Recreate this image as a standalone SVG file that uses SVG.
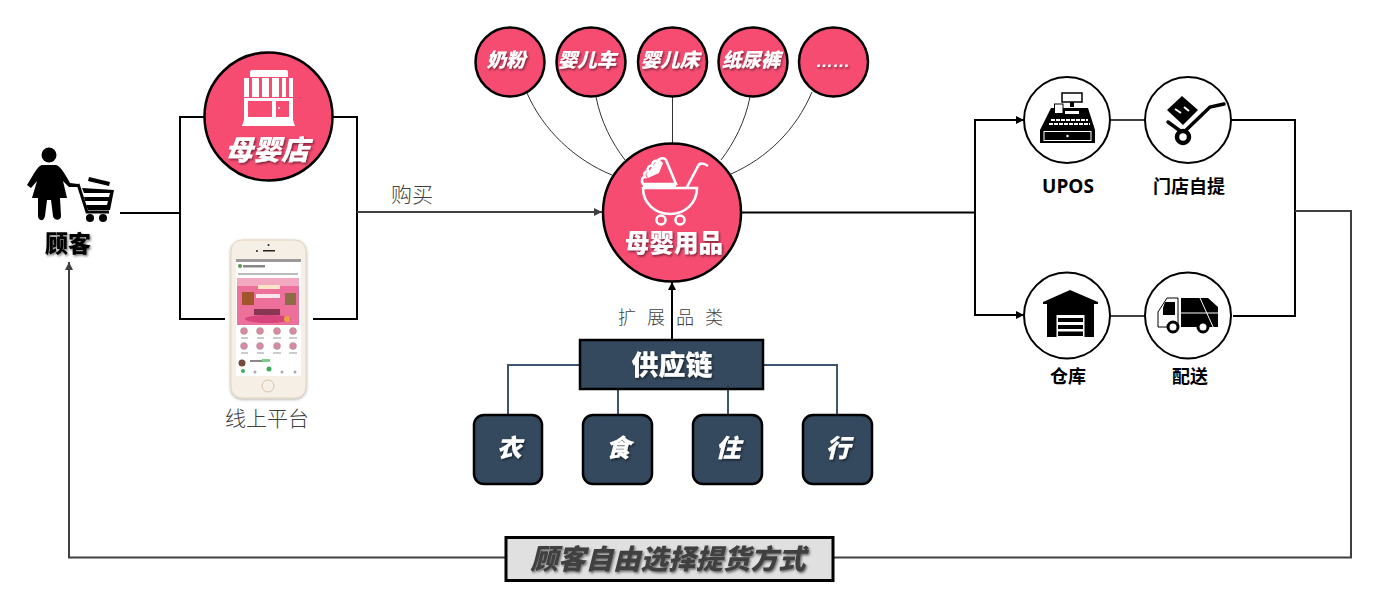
<svg xmlns="http://www.w3.org/2000/svg" width="1388" height="589" viewBox="0 0 1388 589">
<style>
text{font-family:"Noto Sans CJK SC","Noto Sans",sans-serif;text-anchor:middle}
.pink{fill:#f64c72;stroke:#000;stroke-width:2.5}
.white{fill:#fff;stroke:#000;stroke-width:2}
.navy{fill:#34495e;stroke:#000;stroke-width:2.5}
.lab{fill:#fff;font-weight:900;font-style:italic;filter:url(#sh)}
.labn{fill:#fff;font-weight:900;filter:url(#sh)}
.blk{fill:#000;font-weight:700;font-size:18px}
.gray{fill:#404040;font-size:21px;font-weight:300}
.c{fill:none;stroke:#000;stroke-width:2}
.g{fill:none;stroke:#404040;stroke-width:2}
.t{fill:none;stroke:#333;stroke-width:1}
.n{fill:none;stroke:#3d5670;stroke-width:2}
.ic{fill:none;stroke:#fff;stroke-width:2.600}
</style>
<defs>
<filter id="sh" x="-20%" y="-20%" width="150%" height="150%"><feDropShadow dx="1.2" dy="1.5" stdDeviation="1" flood-color="#000" flood-opacity=".55"/></filter>
<filter id="ps" x="-15%" y="-10%" width="130%" height="120%"><feDropShadow dx="0" dy="1" stdDeviation="1.5" flood-color="#000" flood-opacity=".35"/></filter>
<marker id="ab" markerUnits="userSpaceOnUse" markerWidth="10" markerHeight="10" refX="9" refY="5" orient="auto"><path d="M1,1 9,5 1,9z" fill="#000"/></marker>
<marker id="ag" markerUnits="userSpaceOnUse" markerWidth="10" markerHeight="10" refX="9" refY="5" orient="auto"><path d="M1,1 9,5 1,9z" fill="#404040"/></marker>
</defs>
<rect width="1388" height="589" fill="#fff"/>
<g id="connectors">
<path class="c" d="M120,213H180M180,213V117H205M180,213V319H225"/>
<path class="c" d="M332,117H357V319H313"/>
<path class="g" d="M357,212H602" marker-end="url(#ag)"/>
<path class="t" d="M527,93C543,130 575,160 612,175"/>
<path class="t" d="M596,97C601,122 612,143 625,160"/>
<path class="t" d="M672.500,97V143"/>
<path class="t" d="M750,97C745,122 734,143 721,160"/>
<path class="t" d="M812,92C796,130 767,158 731,174"/>
<path class="c" d="M741,212.500H975"/>
<path class="c" d="M975,212V120H1024" marker-end="url(#ab)"/>
<path class="c" d="M975,212V315H1024" marker-end="url(#ab)"/>
<path class="g" d="M1110,120H1145M1111,316H1145"/>
<path class="c" d="M1231,120H1295V316H1233"/>
<path class="g" d="M1295,211H1351V557.500H833M505,557.500H69V262" marker-end="url(#ag)"/>
<path class="c" d="M672,340V282" marker-end="url(#ab)"/>
<path class="n" d="M580,365H508V415M763,365H837V415M618,389V415M728,389V415"/>
</g>
<g id="customer">
<circle cx="49" cy="155" r="7.500"/>
<path d="M42,165H56C60,166 64,172 70,183L78,184 80,187 69,187 63,181 67,198 60,198 61,216C61,221 54,221 53,216L51,200H47L45,216C44,222 38,221 38,216L38,198 32,198 37,181 31,188 27,185C33,176 37,166 42,165Z"/>
<path d="M78,184 87,212H109" fill="none" stroke="#000" stroke-width="3"/>
<path d="M82,188 114,190 110,210 88,210 86,205 107,205 108,201 85,201 84,197 109,197 110,193 84,193Z"/>
<path d="M89,177 110,182 109,186 88,181Z"/>
<circle cx="90" cy="218" r="4"/><circle cx="103" cy="218" r="4"/>
<text class="labn" x="68" y="252" font-size="23" style="fill:#000">顾客</text>
</g>
<g id="store">
<circle class="pink" cx="268.500" cy="116.500" r="64"/>
<path fill="#fff" d="M250,72Q250,70 252,70H286Q288,70 288,72V77H250Z"/>
<path fill="#fff" d="M244,78H249V97H244ZM252,78H259V97H252ZM262,78H269V97H262ZM272,78H279V97H272ZM282,78H286V97H282ZM289,78H293V97H289Z"/>
<path fill="#fff" fill-rule="evenodd" d="M244,98H293V120H244ZM248,101V117H272V101ZM276,101V117H289V101Z"/>
<path fill="#fff" d="M244,120H293L295,126H242Z"/>
<circle cx="279" cy="108" r="1" fill="#fff"/>
<text class="lab" x="267" y="160" font-size="28">母婴店</text>
</g>
<g id="platform">
<rect x="231" y="240" width="75" height="158" rx="11" fill="#f6efe6" stroke="#e3d3bd" filter="url(#ps)"/>
<rect x="236" y="259" width="65" height="117" fill="#fff"/>
<rect x="236" y="259" width="65" height="3" fill="#9a9a9a"/>
<circle cx="240" cy="266" r="2" fill="#5b9a4a"/>
<rect x="243" y="265" width="22" height="2.500" fill="#888"/>
<rect x="238" y="273" width="60" height="2" fill="#bbb"/>
<rect x="237" y="278" width="62" height="47" fill="#ec7099"/>
<rect x="237" y="278" width="62" height="8" fill="#f3a9c0"/>
<rect x="242" y="292" width="12" height="13" fill="#a0562a"/>
<rect x="285" y="293" width="11" height="12" fill="#8d6b45"/>
<rect x="258" y="285" width="22" height="4" fill="#fbe4c8"/>
<rect x="256" y="294" width="24" height="4" fill="#fbe4ea"/>
<rect x="254" y="309" width="26" height="6" fill="#8a3652"/>
<ellipse cx="268" cy="319" rx="23" ry="4" fill="#d8457c"/>
<circle cx="287" cy="319" r="3" fill="#e8a53a"/>
<g fill="#d98aa0" stroke="#999" stroke-width=".5"><circle cx="244" cy="331" r="3.500"/><circle cx="260" cy="331" r="3.500"/><circle cx="277" cy="331" r="3.500"/><circle cx="293" cy="331" r="3.500"/><circle cx="244" cy="346" r="3.500"/><circle cx="260" cy="346" r="3.500"/><circle cx="277" cy="346" r="3.500"/><circle cx="293" cy="346" r="3.500"/></g>
<path stroke="#999" d="M241,338H248M257,338H264M273,338H281M289,338H297M241,353H248M257,353H264M273,353H281M289,353H297"/>
<circle cx="242" cy="363" r="3.500" fill="#7a4a3a"/>
<rect x="250" y="360" width="12" height="2" fill="#888"/><rect x="262" y="359" width="8" height="3" fill="#7ccf8a"/>
<circle cx="243" cy="371" r="2" fill="#3eab5c"/><circle cx="269" cy="369" r="2.500" fill="#3eab5c"/>
<circle cx="255" cy="372" r="1.500" fill="#aaa"/><circle cx="282" cy="372" r="1.500" fill="#aaa"/><circle cx="295" cy="372" r="1.500" fill="#aaa"/>
<circle cx="268" cy="386" r="6" fill="none" stroke="#d9c3a6"/>
<rect x="263" y="250" width="12" height="1.500" fill="#222"/>
<circle cx="268.500" cy="245" r="1" fill="#222"/><circle cx="257" cy="251" r="1" fill="#222"/>
<text class="gray" x="267" y="426">线上平台</text>
</g>
<g id="item-milk"><circle class="pink" cx="510" cy="62" r="34.500"/><text class="lab" x="506" y="67" font-size="19.500">奶粉</text></g>
<g id="item-pram"><circle class="pink" cx="591" cy="62" r="34.500"/><text class="lab" x="587" y="67" font-size="19.500">婴儿车</text></g>
<g id="item-crib"><circle class="pink" cx="672.500" cy="62" r="34.500"/><text class="lab" x="670" y="67" font-size="19.500">婴儿床</text></g>
<g id="item-diaper"><circle class="pink" cx="753" cy="62" r="34.500"/><text class="lab" x="751" y="67" font-size="19.500">纸尿裤</text></g>
<g id="item-more"><circle class="pink" cx="833.500" cy="62" r="34.500"/><text class="lab" x="833" y="67" font-size="17" style="font-family:'Liberation Sans',sans-serif">……</text></g>
<g id="products">
<circle class="pink" cx="672" cy="212.500" r="69"/>
<path class="ic" d="M643,188H697C697,203 685,214 670,214C655,214 643,203 643,188Z"/>
<path class="ic" d="M687,187 697,168C699,163 702,162 708,166"/>
<path class="ic" d="M676,184 666,160C664,157 660,158 657,161C653,160 652,164 652,166C649,165 647,168 648,171C645,171 643,174 645,177C642,177 641,180 643,184Z"/>
<path fill="#fff" d="M655,163 660,160 663,163 659,173 648,178 646,174 650,170Z"/>
<path class="ic" d="M643,186H676"/>
<circle class="ic" cx="661" cy="220" r="4.500"/><circle class="ic" cx="680" cy="220" r="4.500"/>
<text class="labn" x="674" y="252" font-size="24.500">母婴用品</text>
</g>
<g id="upos">
<circle class="white" cx="1067" cy="120" r="43"/>
<rect x="1062" y="93" width="20" height="9" fill="none" stroke="#000" stroke-width="1.500"/>
<rect x="1070" y="102" width="4" height="5"/>
<path d="M1051,108H1088L1095,130V143H1040V130Z"/>
<rect x="1054.500" y="104" width="8.500" height="9.500" fill="#fff" stroke="#000"/>
<path fill="none" stroke="#fff" stroke-width="2" stroke-dasharray="4 1" d="M1051,120H1088M1049,124H1090"/>
<rect x="1065" y="111" width="14" height="3" fill="#fff"/>
<rect x="1044" y="131.500" width="47" height="9" fill="none" stroke="#fff"/>
<circle cx="1067.500" cy="136" r="1.200" fill="#fff"/>
<text class="blk" x="1068" y="193" style="font-family:'Open Sans',sans-serif;font-size:19px">UPOS</text>
</g>
<g id="pickup">
<circle class="white" cx="1188" cy="120" r="43"/>
<path d="M1167,110 1182,96 1198,110 1183,125Z"/>
<path stroke="#fff" stroke-width="2" d="M1175,109 1181,113M1184,107 1189,111"/>
<path fill="none" stroke="#000" stroke-width="3.500" stroke-linecap="round" d="M1168,122 1183,133 1210,107 1224,104"/>
<circle cx="1183" cy="137" r="6" fill="#fff" stroke="#000" stroke-width="4.500"/>
<text class="blk" x="1189" y="193">门店自提</text>
</g>
<g id="warehouse">
<circle class="white" cx="1067" cy="315.500" r="43"/>
<path d="M1043,302 1070,290 1098,302 1098,304 1094,304V337H1047V304H1043Z"/>
<rect x="1056.500" y="315" width="28" height="22" fill="#fff"/>
<path d="M1058,318H1083V322H1058ZM1058,325H1083V329H1058ZM1058,331.500H1083V336H1058Z"/>
<text class="blk" x="1068" y="383">仓库</text>
</g>
<g id="delivery">
<circle class="white" cx="1188" cy="315.500" r="43"/>
<path d="M1158,327V312L1167,298H1178V327Z" fill="#fff" stroke="#000"/>
<path d="M1165,302H1175V315H1163V308Z"/>
<path d="M1181,298H1208L1218,307V327H1181Z"/>
<path fill="none" stroke="#fff" d="M1181,313H1218M1200,298 1214,329"/>
<circle cx="1173" cy="327" r="5" fill="#fff" stroke="#000" stroke-width="3"/>
<circle cx="1203" cy="327" r="5" fill="#fff" stroke="#000" stroke-width="3"/>
<text class="blk" x="1190" y="383">配送</text>
</g>
<g id="labels">
<text class="gray" x="412" y="202">购买</text>
<text class="gray" x="676" y="324" style="font-size:18px;letter-spacing:11px">扩展品类</text>
</g>
<g id="supply"><rect class="navy" x="580" y="340" width="183" height="49"/><text class="labn" x="672" y="375" font-size="27">供应链</text></g>
<g id="clothing"><rect class="navy" x="474" y="415" width="68" height="69" rx="10"/><text class="lab" x="509" y="457" font-size="25">衣</text></g>
<g id="food"><rect class="navy" x="583" y="415" width="69" height="69" rx="10"/><text class="lab" x="618" y="457" font-size="25">食</text></g>
<g id="housing"><rect class="navy" x="693" y="415" width="69" height="69" rx="10"/><text class="lab" x="728" y="457" font-size="25">住</text></g>
<g id="travel"><rect class="navy" x="803" y="415" width="69" height="69" rx="10"/><text class="lab" x="838" y="457" font-size="25">行</text></g>
<g id="choice"><rect x="506" y="537.500" width="327" height="43" fill="#e0e0e0" stroke="#000" stroke-width="3"/><text x="668" y="569" font-size="27.500" font-weight="900" font-style="italic" fill="#404040" filter="url(#sh)">顾客自由选择提货方式</text></g>
</svg>
